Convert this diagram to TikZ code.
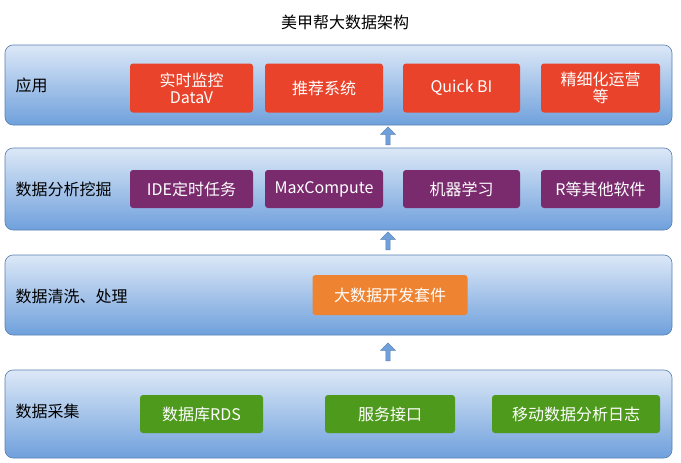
\documentclass[tikz,border=0pt]{standalone}
\usepackage{fontspec}
\setmainfont{Noto Sans CJK SC}
\usetikzlibrary{shapes.arrows}
\definecolor{layA}{HTML}{6FA0DC}
\definecolor{layB}{HTML}{DCE8F7}
\definecolor{redb}{HTML}{E9432B}
\definecolor{purb}{HTML}{7A2B6E}
\definecolor{orab}{HTML}{EE8331}
\definecolor{greb}{HTML}{4E9A1C}
\begin{document}
\begin{tikzpicture}[x=1pt,y=-1pt,
 layer/.style={draw=layA!80!black,line width=0.6pt,rounded corners=8pt,top color=layB,bottom color=layA},
 box/.style={rounded corners=3pt,text=white,font=\fontsize{16}{17}\selectfont,align=center,inner sep=0pt},
 lab/.style={anchor=west,font=\fontsize{16}{17}\selectfont,text=black},
 uparr/.style={single arrow,shape border rotate=90,fill=layA,draw=layA!80!black,minimum width=15pt,minimum height=18pt,single arrow head extend=3pt,inner sep=1pt}]
\useasboundingbox (0,0) rectangle (681,463);
\fill[white] (0,0) rectangle (681,463);
\node (title) at (345,22) {\fontsize{16}{17}\selectfont 美甲帮大数据架构};
\path[layer] (5,45) rectangle (672,125);
\path[layer] (5,148) rectangle (672,230);
\path[layer] (5,255) rectangle (672,335);
\path[layer] (5,370) rectangle (672,458);
\node[lab] (l1) at (12,85) {应用};
\node[lab] (l2) at (12,189) {数据分析挖掘};
\node[lab] (l3) at (12,296) {数据清洗、处理};
\node[lab] (l4) at (12,411) {数据采集};
\foreach \n/\xa/\xb/\t in {a1/130/253/{实时监控\\DataV},a2/265/383/推荐系统,a3/403/520/Quick BI,a4/541/660/{精细化运营\\等}}
 \node[box,fill=redb,minimum width={\xb-\xa},minimum height=49] (\n) at ({(\xa+\xb)/2},88) {\t};
\foreach \n/\xa/\xb/\t in {b1/130/253/IDE定时任务,b2/265/383/MaxCompute,b3/403/520/机器学习,b4/541/660/R等其他软件}
 \node[box,fill=purb,minimum width={\xb-\xa},minimum height=38] (\n) at ({(\xa+\xb)/2},189) {\t};
\node[box,fill=orab,minimum width=155,minimum height=40] (c1) at (390,295) {大数据开发套件};
\foreach \n/\xa/\xb/\t in {d1/140/263/数据库RDS,d2/325/455/服务接口,d3/492/660/移动数据分析日志}
 \node[box,fill=greb,minimum width={\xb-\xa},minimum height=38] (\n) at ({(\xa+\xb)/2},414) {\t};
\node[uparr] (u1) at (388,137) {};
\node[uparr] (u2) at (388,242) {};
\node[uparr] (u3) at (388,353) {};
\end{tikzpicture}
\end{document}
